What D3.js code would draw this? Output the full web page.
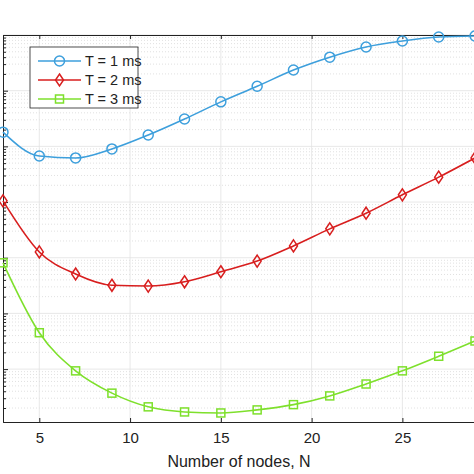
<!DOCTYPE html><html><head><meta charset="utf-8"><script src="https://cdn.jsdelivr.net/npm/d3@7"></script>
<style>body{margin:0;background:#fff}</style></head><body><svg id="c" width="474" height="474"></svg><script>
const N=[3,5,7,9,11,13,15,17,19,21,23,25,27,29];
const T1=[1.8e-2,6.7e-3,6.2e-3,9e-3,1.6e-2,3.1e-2,6.3e-2,0.12,0.235,0.40,0.61,0.78,0.92,0.96];
const T2=[1.05e-3,1.27e-4,5.1e-5,3.2e-5,3.1e-5,3.7e-5,5.6e-5,8.7e-5,1.63e-4,3.3e-4,6.3e-4,1.35e-3,2.8e-3,6.2e-3];
const T3=[8.1e-5,4.5e-6,9.3e-7,3.7e-7,2.1e-7,1.7e-7,1.63e-7,1.85e-7,2.3e-7,3.3e-7,5.4e-7,9.3e-7,1.7e-6,3.2e-6];
const xTicks=[5,10,15,20,25];
const names=["T = 1 ms","T = 2 ms","T = 3 ms"];
const colors=["#3d9fdc","#d81e1e","#7ee02c"];
const svg=d3.select("#c");
const L=3,R=475,Tp=35,B=422;
const x=d3.scaleLinear().domain([3,29]).range([L,R]);
const y=d3.scaleLog().domain([Math.pow(10,-6.95),1]).range([B,Tp]);
const g=svg.append("g");
const minors=[];for(let e=-7;e<=0;e++)for(let k=2;k<=9;k++){const v=k*Math.pow(10,e);if(v>=y.domain()[0]&&v<=1)minors.push(v);}
const majors=[];for(let e=-6;e<=0;e++)majors.push(Math.pow(10,e));
g.selectAll(".mi").data(minors).join("line").attr("x1",L).attr("x2",R).attr("y1",d=>y(d)).attr("y2",d=>y(d)).attr("stroke","#ccc").attr("stroke-width",0.6).attr("stroke-dasharray","1,2");
g.selectAll(".ma").data(majors).join("line").attr("x1",L).attr("x2",R).attr("y1",d=>y(d)).attr("y2",d=>y(d)).attr("stroke","#e2e2e2").attr("stroke-width",0.8);
g.selectAll(".xg").data(xTicks).join("line").attr("x1",d=>x(d)).attr("x2",d=>x(d)).attr("y1",Tp).attr("y2",B).attr("stroke","#e2e2e2").attr("stroke-width",0.8);
const ax=svg.append("g").attr("transform",`translate(0,${B})`).call(d3.axisBottom(x).tickValues(xTicks).tickSize(-4).tickPadding(10));
ax.selectAll("text").attr("font-family","Liberation Sans, Arial").attr("font-size",15).attr("fill","#222");
ax.select(".domain").attr("stroke","#222");ax.selectAll(".tick line").attr("stroke","#222");
const at=svg.append("g").attr("transform",`translate(0,${Tp})`).call(d3.axisTop(x).tickValues(xTicks).tickSize(-4).tickFormat(""));
at.select(".domain").attr("stroke","#222");at.selectAll(".tick line").attr("stroke","#222");
const al=svg.append("g").attr("transform",`translate(${L},0)`).call(d3.axisLeft(y).tickValues(minors.concat(majors)).tickSize(-3).tickFormat(""));
al.select(".domain").attr("stroke","#222");al.selectAll(".tick line").attr("stroke","#222");
al.selectAll(".tick line").filter(d=>majors.includes(d)).attr("x2",5);
svg.append("text").attr("x",x(16)).attr("y",467).attr("text-anchor","middle").attr("font-family","Liberation Sans, Arial").attr("font-size",16).attr("fill","#222").text("Number of nodes, N");
const line=d3.line().x((d,i)=>x(N[i])).y(d=>y(d)).curve(d3.curveMonotoneX);
const series=[T1,T2,T3];
function marker(sel,k,cx,cy){
  if(k===0)sel.append("circle").attr("cx",cx).attr("cy",cy).attr("r",5).attr("fill","none").attr("stroke",colors[0]).attr("stroke-width",1.5);
  else if(k===1)sel.append("path").attr("d",`M${cx},${cy-6}L${cx+4},${cy}L${cx},${cy+6}L${cx-4},${cy}Z`).attr("fill","none").attr("stroke",colors[1]).attr("stroke-width",1.5);
  else sel.append("rect").attr("x",cx-4).attr("y",cy-4).attr("width",8).attr("height",8).attr("fill","none").attr("stroke",colors[2]).attr("stroke-width",1.5);
}
series.forEach((s,k)=>{
  svg.append("path").attr("d",line(s)).attr("fill","none").attr("stroke",colors[k]).attr("stroke-width",1.6);
  const mg=svg.append("g");
  s.forEach((v,i)=>marker(mg,k,x(N[i]),y(v)));
});
const lg=svg.append("g");
lg.append("rect").attr("x",30).attr("y",47).attr("width",108).attr("height",61).attr("fill","#fff").attr("stroke","#222").attr("stroke-width",0.8);
names.forEach((n,k)=>{
  const cy=61+k*19;
  lg.append("line").attr("x1",38).attr("x2",81).attr("y1",cy).attr("y2",cy).attr("stroke",colors[k]).attr("stroke-width",1.6);
  marker(lg,k,59.5,cy);
  lg.append("text").attr("x",85).attr("y",cy+5).attr("font-family","Liberation Sans, Arial").attr("font-size",14.5).attr("fill","#222").text(n);
});
</script></body></html>
